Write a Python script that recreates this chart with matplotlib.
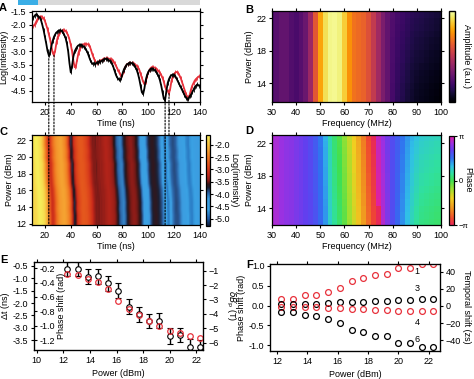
import numpy as np
import matplotlib
matplotlib.use('Agg')
import matplotlib.pyplot as plt
from matplotlib.colors import LinearSegmentedColormap, Normalize
from matplotlib.patches import Rectangle, ConnectionPatch
from matplotlib.transforms import blended_transform_factory
import matplotlib.cm as cm

plt.rcParams['font.family'] = ['Liberation Sans', 'DejaVu Sans']
plt.rcParams['font.size'] = 6.5

# ---------------- data ----------------
time_ns = list(range(10, 141))
logI_black = [
    -1.80, -1.72, -1.65, -1.60, -1.62, -1.68, -1.72, -1.82, -2.00, -2.20,
    -2.45, -2.70, -2.98, -3.15, -3.05, -2.80, -2.60, -2.45, -2.35, -2.28,
    -2.24, -2.21, -2.20, -2.23, -2.30, -2.38, -2.50, -2.70, -3.00, -3.45,
    -3.80, -3.55, -3.20, -3.00, -2.90, -2.82, -2.77, -2.75, -2.76, -2.78,
    -2.82, -2.88, -2.95, -3.05, -3.18, -3.32, -3.42, -3.48, -3.45, -3.50,
    -3.42, -3.45, -3.38, -3.40, -3.35, -3.33, -3.30, -3.28, -3.30, -3.32,
    -3.35, -3.40, -3.48, -3.60, -3.75, -3.90, -4.00, -4.05, -4.10, -4.02,
    -3.85, -3.70, -3.60, -3.52, -3.48, -3.45, -3.43, -3.45, -3.48, -3.52,
    -3.60, -3.70, -3.85, -4.05, -4.30, -4.55, -4.62, -4.40, -4.10, -3.90,
    -3.78, -3.70, -3.66, -3.65, -3.68, -3.72, -3.78, -3.85, -3.95, -4.10,
    -4.30, -4.55, -4.80, -4.85, -4.50, -4.20, -4.05, -3.95, -3.90, -3.88,
    -3.90, -3.95, -4.05, -4.15, -4.25, -4.35, -4.45, -4.55, -4.65, -4.75,
    -4.80, -4.82, -4.70, -4.65, -4.55, -4.45, -4.35, -4.30, -4.25, -4.30,
    -4.30]
logI_red = [
    -2.05, -2.05, -2.00, -1.90, -1.80, -1.72, -1.68, -1.68, -1.70, -1.75,
    -1.85, -2.00, -2.15, -2.35, -2.55, -2.80, -3.05, -3.15, -2.95, -2.65,
    -2.45, -2.33, -2.25, -2.21, -2.20, -2.20, -2.22, -2.30, -2.40, -2.55,
    -2.75, -3.00, -3.35, -3.60, -3.55, -3.30, -3.05, -2.90, -2.80, -2.75,
    -2.73, -2.72, -2.72, -2.73, -2.76, -2.85, -3.00, -3.15, -3.28, -3.38,
    -3.45, -3.42, -3.38, -3.35, -3.33, -3.30, -3.28, -3.27, -3.27, -3.28,
    -3.28, -3.30, -3.32, -3.37, -3.45, -3.55, -3.65, -3.75, -3.85, -3.95,
    -3.90, -3.75, -3.60, -3.52, -3.48, -3.45, -3.44, -3.44, -3.45, -3.48,
    -3.50, -3.55, -3.60, -3.70, -3.85, -4.00, -4.15, -4.22, -4.15, -3.95,
    -3.80, -3.70, -3.62, -3.60, -3.60, -3.62, -3.65, -3.70, -3.75, -3.82,
    -3.90, -4.00, -4.15, -4.35, -4.45, -4.50, -4.60, -4.40, -4.10, -3.95,
    -3.85, -3.80, -3.78, -3.82, -3.90, -4.00, -4.15, -4.30, -4.45, -4.60,
    -4.72, -4.75, -4.65, -4.45, -4.30, -4.20, -4.10, -4.05, -4.00, -3.95,
    -3.95]
guide_times = [23, 27, 113, 116]
guide_trace = ['black', 'red', 'black', 'red']
guide_into_C = [True, False, True, False]
pulse_bar = [(-1, 14.5, '#3aaee6'), (14.5, 140, '#d9d9d9')]

power_dBm = [12.3, 13.07, 13.84, 14.61, 15.38, 16.15, 16.92, 17.69, 18.46, 19.23, 20.0, 20.77, 21.54, 22.31]
low_power_weight = [1.0, 0.95, 0.9, 0.8, 0.75, 0.65, 0.55, 0.5, 0.4, 0.35, 0.25, 0.15, 0.1, 0.0]

freq_MHz = list(range(30, 101, 2))
amp_top = [0.22, 0.25, 0.28, 0.28, 0.24, 0.22, 0.25, 0.30, 0.42, 0.62, 0.80, 0.92, 0.97, 0.98, 0.96, 0.88,
           0.76, 0.69, 0.67, 0.65, 0.60, 0.52, 0.43, 0.34, 0.28, 0.24, 0.21, 0.19, 0.17, 0.15, 0.14, 0.13,
           0.12, 0.11, 0.10, 0.09]
amp_low_minus_top = [0, 0, 0, 0, 0, 0, 0, 0, 0, 0, 0, 0, 0, 0, 0, 0, 0, 0, 0, 0, 0, 0, 0, 0, 0,
                     -0.03, -0.05, -0.06, -0.07, -0.07, -0.08, -0.08, -0.08, -0.08, -0.08, -0.08]
phase_top = [2.75, 2.70, 2.60, 2.50, 2.45, 2.35, 2.25, 2.15, 2.00, 1.80, 1.50, 1.10, 0.60, 0.20, -0.10,
             -0.50, -0.90, -1.30, -1.70, -2.20, -2.70, -3.10, -3.40, -3.70, -4.00, -4.30, -4.50, -4.75,
             -5.00, -5.20, -5.35, -5.45, -5.50, -5.55, -5.60, -5.60]
phase_low_minus_top = [0, 0, 0, 0, 0, 0, 0, 0, 0.05, 0.1, 0.15, 0.2, 0.2, 0.25, 0.25, 0.3, 0.3, 0.3, 0.3,
                       0.35, 0.35, 0.35, 0.3, 0.2, 0.1, 0.0, -0.1, -0.2, -0.3, -0.4, -0.45, -0.5, -0.5,
                       -0.5, -0.5, -0.5]

dt_ns = [-0.62, -0.62, -0.93, -0.91, -1.20, -1.50, -2.15, -2.46, -2.73, -2.72, -3.34, -3.30, -3.77, -3.80]
dt_err = [0.30, 0.30, 0.31, 0.30, 0.30, 0.30, 0.30, 0.30, 0.30, 0.30, 0.31, 0.30, 0.30, 0.30]
dBp_T = [-1.25, -1.30, -1.60, -1.81, -2.30, -3.11, -3.69, -4.08, -4.50, -4.84, -5.17, -5.35, -5.54, -5.70]

F_h1 = [0.17, 0.17, 0.27, 0.27, 0.34, 0.44, 0.61, 0.69, 0.77, 0.79, 0.96, 0.96, 1.04, 1.05]
F_h3 = [0.03, 0.03, 0.05, 0.05, 0.06, 0.08, 0.09, 0.10, 0.12, 0.12, 0.14, 0.14, 0.16, 0.17]
F_h4 = [-0.03, -0.03, -0.04, -0.04, -0.05, -0.07, -0.08, -0.09, -0.11, -0.11, -0.13, -0.13, -0.15, -0.15]
F_h6 = [-0.17, -0.17, -0.25, -0.26, -0.34, -0.43, -0.61, -0.68, -0.78, -0.78, -0.95, -0.96, -1.05, -1.05]
F_labels = ['1', '3', '4', '6']

RED = '#e8323c'
TICKS = dict(width=0.8, length=2.5, pad=1.5)

# ---------------- layout ----------------
W, H = 474, 379
fig = plt.figure(figsize=(W / 100, H / 100), dpi=100)


def rect(l, t, r, b):
    return [l / W, 1 - b / H, (r - l) / W, (b - t) / H]


def style(ax, mirror=True):
    ax.tick_params(top=mirror, right=mirror, direction='out', **TICKS)
    for s in ax.spines.values():
        s.set_linewidth(0.9)


def side_label(x, y, s):
    fig.text(x / W, 1 - y / H, s, rotation=270, ha='center', va='center')


w = np.array(low_power_weight)[:, None]
ext_x = [29, 101]

# ---- Panel B ----
ampB = np.array(amp_top)[None, :] + w * np.array(amp_low_minus_top)[None, :]
rgbB = plt.get_cmap('inferno')(Normalize(0, 1)(ampB))
axB = fig.add_axes(rect(272, 11, 441, 102))
axB.imshow(rgbB, aspect='auto', origin='lower', interpolation='nearest',
           extent=ext_x + [11.7, 22.9])
axB.set_xlim(30, 100)
axB.set_ylim(11.7, 22.9)
axB.set_xticks(range(30, 101, 10))
axB.set_yticks([14, 18, 22])
axB.set_xlabel('Frequency (MHz)', labelpad=2)
axB.set_ylabel('Power (dBm)', labelpad=2)
style(axB)
caxB = fig.add_axes(rect(449, 11, 455, 102))
cbB = fig.colorbar(cm.ScalarMappable(norm=Normalize(0, 1), cmap='inferno'), cax=caxB)
cbB.set_ticks([])
cbB.outline.set_linewidth(1.0)
side_label(467, 56, 'Amplitude (a.u.)')

# ---- Panel D ----
cmapD = LinearSegmentedColormap.from_list('phase', [
    (0.00, '#e8285a'), (0.07, '#f04a30'), (0.17, '#f08a20'), (0.30, '#f0d020'),
    (0.40, '#a0e030'), (0.50, '#40e050'), (0.58, '#30e0a0'), (0.66, '#30c0e8'),
    (0.75, '#3070f0'), (0.84, '#6040f0'), (0.92, '#a030e0'), (1.00, '#e020a0')])
phD = np.array(phase_top)[None, :] + w * np.array(phase_low_minus_top)[None, :]
phD = np.angle(np.exp(1j * phD))
rgbD = cmapD(Normalize(-np.pi, np.pi)(phD))
axD = fig.add_axes(rect(272, 135, 441, 225))
axD.imshow(rgbD, aspect='auto', origin='lower', interpolation='nearest',
           extent=ext_x + [11.95, 23.0])
axD.set_xlim(30, 100)
axD.set_ylim(11.95, 23.0)
axD.set_xticks(range(30, 101, 10))
axD.set_yticks([14, 18, 22])
axD.set_xlabel('Frequency (MHz)', labelpad=2)
axD.set_ylabel('Power (dBm)', labelpad=2)
style(axD)
caxD = fig.add_axes(rect(449, 136, 454, 225))
cbD = fig.colorbar(cm.ScalarMappable(norm=Normalize(-np.pi, np.pi), cmap=cmapD), cax=caxD)
cbD.set_ticks([-np.pi, 0, np.pi])
cbD.set_ticklabels(['\u2212\u03c0', '0', '\u03c0'])
cbD.ax.tick_params(length=2, pad=1.5, labelsize=5.5, width=0.8)
cbD.outline.set_linewidth(0.9)
side_label(468, 180, 'Phase')

# ---- Panel A ----
axA = fig.add_axes(rect(32, 11, 200, 102))
t = np.array(time_ns)
axA.plot(t, logI_red, color=RED, lw=1.3, marker='|', ms=2.5, mew=0.6)
axA.plot(t, logI_black, color='black', lw=1.3, marker='|', ms=2.5, mew=0.6)
axA.set_xlim(10, 140)
axA.set_ylim(-4.92, -1.47)
axA.set_xticks(range(20, 141, 20))
axA.set_yticks(np.arange(-4.5, -1.4, 0.5))
axA.yaxis.set_major_formatter(matplotlib.ticker.FormatStrFormatter('%.1f'))
axA.set_xlabel('Time (ns)', labelpad=2)
axA.set_ylabel('Log(intensity)', labelpad=2)
style(axA)
bt = blended_transform_factory(axA.transData, axA.transAxes)
for x0, x1, c in pulse_bar:
    axA.add_patch(Rectangle((x0, 1.066), x1 - x0, 0.055, transform=bt, facecolor=c,
                            edgecolor='none', clip_on=False))

# ---- Panel C ----
cmapC = LinearSegmentedColormap.from_list('logi', [
    (0.00, '#0b1836'), (0.08, '#1d5aa8'), (0.18, '#3aa2e4'), (0.30, '#3c9ce0'),
    (0.37, '#2a5c9c'), (0.42, '#1c2034'), (0.46, '#3a1414'), (0.50, '#8a1c18'),
    (0.57, '#c8281a'), (0.66, '#e04a1c'), (0.76, '#f07a22'), (0.88, '#f8b83a'),
    (1.00, '#f6ee5a')])
axC = fig.add_axes(rect(32, 135, 200, 225))
black_arr = np.array(logI_black)
shifts = np.array(dt_ns) - dt_ns[-1]
imgC = np.array([np.interp(t - s, t, black_arr) for s in shifts])
axC.imshow(imgC, cmap=cmapC, vmin=-5.3, vmax=-1.6, aspect='auto', origin='lower',
           interpolation='bilinear', extent=[9.5, 140.5, 11.88, 22.6])
axC.set_xlim(10, 140)
axC.set_ylim(11.88, 22.6)
axC.set_xticks(range(20, 141, 20))
axC.set_yticks(range(12, 23, 2))
axC.set_xlabel('Time (ns)', labelpad=2)
axC.set_ylabel('Power (dBm)', labelpad=2)
style(axC)
caxC = fig.add_axes(rect(206, 135, 210, 226))
cbC = fig.colorbar(cm.ScalarMappable(norm=Normalize(-5.3, -1.6), cmap=cmapC), cax=caxC)
cbC.set_ticks(np.arange(-5.0, -1.9, 0.5))
cbC.ax.yaxis.set_major_formatter(matplotlib.ticker.FormatStrFormatter('%.1f'))
cbC.ax.tick_params(length=2, pad=1.5, width=0.8)
cbC.outline.set_linewidth(0.9)
side_label(234, 180, 'Log(intensity)')

# ---- connecting guide lines ----
for tg, tr, into in zip(guide_times, guide_trace, guide_into_C):
    trace = logI_black if tr == 'black' else logI_red
    v = trace[time_ns.index(tg)]
    yend = axC.get_ylim()[0] if into else axC.get_ylim()[1]
    con = ConnectionPatch(xyA=(tg, v), coordsA='data', axesA=axA,
                          xyB=(tg, yend), coordsB='data', axesB=axC,
                          color='black', lw=0.8, linestyle=(0, (1.5, 1.5)), fill=False)
    fig.add_artist(con)

# ---- Panel E ----
axE = fig.add_axes(rect(34, 262, 203, 350))
axE.errorbar(power_dBm, dt_ns, yerr=dt_err, fmt='o', ms=4, mfc='white', mec='black',
             mew=0.8, ecolor='black', elinewidth=1.0, capsize=2, capthick=1.0)
axE.set_xlim(9.8, 22.5)
axE.set_ylim(-3.905, -0.338)
axE.set_xticks(range(10, 23, 2))
axE.set_yticks(np.arange(-3.5, -0.4, 0.5))
axE.yaxis.set_major_formatter(matplotlib.ticker.FormatStrFormatter('%.1f'))
axE.set_xlabel('Power (dBm)', labelpad=3.5)
axE.set_ylabel('\u0394t (ns)', labelpad=2)
axE.tick_params(top=True, direction='out', **TICKS)
for s in axE.spines.values():
    s.set_linewidth(0.9)
axR = axE.twinx()
axR.plot(power_dBm, dBp_T, 'o', ms=4, mfc='none', mec=RED, mew=0.9)
axR.set_ylim(-6.507, -0.396)
axR.set_yticks(range(-6, 0))
axR.tick_params(direction='out', **TICKS)
side_label(231, 306, r'$\delta B_{\mathrm{p}}$ (T)')
axP = axE.twinx()
for s in axP.spines.values():
    s.set_visible(False)
axP.yaxis.set_ticks_position('left')
axP.yaxis.set_label_position('left')
axP.set_ylim(-1.339, -0.112)
axP.set_yticks([-1.2, -1.0, -0.8, -0.6, -0.4, -0.2])
axP.yaxis.set_major_formatter(matplotlib.ticker.FormatStrFormatter('%.1f'))
axP.tick_params(axis='y', direction='in', length=2.5, width=0.8, pad=-15)
axP.set_ylabel('Phase shift (rad)')
axP.yaxis.set_label_coords(0.19, 0.5)

# ---- Panel F ----
axF = fig.add_axes(rect(270, 264, 440, 351))
for series, col in zip([F_h1, F_h3, F_h4, F_h6], [RED, 'black', RED, 'black']):
    axF.plot(power_dBm, series, 'o', ms=4.2, mfc='none', mec=col, mew=0.9)
axF.set_xlim(11.55, 22.75)
axF.set_ylim(-1.15, 1.05)
axF.set_xticks(range(12, 23, 2))
axF.set_yticks([-1.0, -0.5, 0.0, 0.5, 1.0])
axF.yaxis.set_major_formatter(matplotlib.ticker.FormatStrFormatter('%.1f'))
axF.set_xlabel('Power (dBm)', labelpad=3.5)
axF.set_ylabel('Phase shift (rad)', labelpad=2)
axF.tick_params(top=True, direction='out', **TICKS)
for s in axF.spines.values():
    s.set_linewidth(0.9)
for lab, yv in zip(F_labels, [0.86, 0.43, -0.42, -0.85]):
    axF.text(21.25, yv, lab, ha='center', va='center', fontsize=6.5)
axF2 = axF.twinx()
axF2.set_ylim(-52.6, 48.9)
axF2.set_yticks([-40, -20, 0, 20, 40])
axF2.tick_params(direction='out', **TICKS)
side_label(467, 307, 'Temporal shift (zs)')

# ---- panel letters ----
for lab, (x, y) in {'A': (3, 8), 'B': (249, 10), 'C': (4, 132), 'D': (249, 131),
                    'E': (4, 260), 'F': (250, 265)}.items():
    fig.text(x / W, 1 - y / H, lab, fontsize=8, fontweight='bold', ha='center', va='center')

fig.savefig('out.png', dpi=100)
